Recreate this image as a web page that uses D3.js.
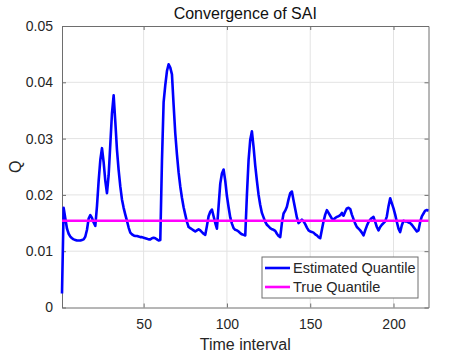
<!DOCTYPE html>
<html>
<head>
<meta charset="utf-8">
<script src="https://cdn.jsdelivr.net/npm/d3@7"></script>
<style>
  html, body { margin: 0; padding: 0; background: #fff; }
  svg { display: block; }
  text { font-family: "Liberation Sans", Arial, Helvetica, sans-serif; }
</style>
</head>
<body>
<svg id="chart" width="474" height="355"></svg>
<script>
// ---- data ----
const title = "Convergence of SAI";
const xLabel = "Time interval";
const yLabel = "Q";
const xTicks = [50, 100, 150, 200];
const yTicks = [0, 0.01, 0.02, 0.03, 0.04, 0.05];
const yTickLabels = ["0", "0.01", "0.02", "0.03", "0.04", "0.05"];
const seriesNames = ["Estimated Quantile", "True Quantile"];
const trueQuantile = 0.0154;
const estimated = [
  0.0025, 0.0177, 0.0158, 0.0140, 0.0131, 0.0126, 0.0123, 0.0121, 0.0120, 0.0119,
  0.0119, 0.0119, 0.0120, 0.0121, 0.0126, 0.0138, 0.0158, 0.0164, 0.0159, 0.0151,
  0.0145, 0.0180, 0.0225, 0.0262, 0.0283, 0.0258, 0.0225, 0.0203, 0.0235, 0.0290,
  0.0345, 0.0377, 0.0330, 0.0280, 0.0244, 0.0215, 0.0192, 0.0177, 0.0165, 0.0154,
  0.0142, 0.0133, 0.0130, 0.0128, 0.0127, 0.0127, 0.0126, 0.0125, 0.0125, 0.0124,
  0.0123, 0.0122, 0.0121, 0.0121, 0.0123, 0.0124, 0.0123, 0.0121, 0.0119, 0.0120,
  0.0260, 0.0365, 0.0395, 0.0420, 0.0432, 0.0426, 0.0414, 0.0360, 0.0309, 0.0272,
  0.0240, 0.0215, 0.0195, 0.0178, 0.0165, 0.0152, 0.0143, 0.0141, 0.0139, 0.0137,
  0.0135, 0.0137, 0.0139, 0.0137, 0.0134, 0.0131, 0.0129, 0.0145, 0.0162, 0.0170,
  0.0174, 0.0162, 0.0150, 0.0140, 0.0180, 0.0220, 0.0238, 0.0245, 0.0225, 0.0198,
  0.0178, 0.0160, 0.0149, 0.0141, 0.0138, 0.0137, 0.0135, 0.0132, 0.0130, 0.0129,
  0.0128, 0.0200, 0.0262, 0.0298, 0.0313, 0.0285, 0.0252, 0.0225, 0.0200, 0.0182,
  0.0168, 0.0160, 0.0152, 0.0147, 0.0144, 0.0141, 0.0139, 0.0138, 0.0136, 0.0131,
  0.0127, 0.0125, 0.0150, 0.0167, 0.0172, 0.0179, 0.0192, 0.0203, 0.0206, 0.0190,
  0.0175, 0.0160, 0.0150, 0.0153, 0.0156, 0.0153, 0.0148, 0.0142, 0.0137, 0.0135,
  0.0134, 0.0133, 0.0130, 0.0128, 0.0125, 0.0123, 0.0138, 0.0153, 0.0165, 0.0173,
  0.0168, 0.0163, 0.0158, 0.0156, 0.0159, 0.0161, 0.0162, 0.0164, 0.0168, 0.0163,
  0.0170, 0.0176, 0.0177, 0.0175, 0.0165, 0.0157, 0.0149, 0.0143, 0.0140, 0.0137,
  0.0133, 0.0128, 0.0137, 0.0145, 0.0152, 0.0156, 0.0159, 0.0161, 0.0152, 0.0143,
  0.0137, 0.0143, 0.0147, 0.0150, 0.0153, 0.0162, 0.0180, 0.0194, 0.0185, 0.0176,
  0.0165, 0.0152, 0.0140, 0.0134, 0.0146, 0.0154, 0.0153, 0.0153, 0.0151, 0.0150,
  0.0147, 0.0143, 0.0139, 0.0135, 0.0137, 0.0152, 0.0162, 0.0167, 0.0172, 0.0173,
  0.0172
];
const timeIdx = estimated.map((_, i) => i + 1);

// ---- layout ----
const svg = d3.select("#chart");
const L = 62, R = 428.5, T = 26, B = 307.5;
const axisColor = "#6e6e6e", textColor = "#262626", gridColor = "#e3e3e3";
const blue = "#0000ff", magenta = "#ff00ff";

const x = d3.scaleLinear().domain([1, estimated.length]).range([L, R]);
const y = d3.scaleLinear().domain([0, 0.05]).range([B, T]);

// grid
const g = svg.append("g");
g.selectAll(".gx").data(xTicks).enter().append("line")
  .attr("x1", d => x(d)).attr("x2", d => x(d)).attr("y1", T).attr("y2", B)
  .attr("stroke", gridColor).attr("stroke-width", 1);
g.selectAll(".gy").data(yTicks.filter(d => d > 0 && d < 0.05)).enter().append("line")
  .attr("x1", L).attr("x2", R).attr("y1", d => y(d)).attr("y2", d => y(d))
  .attr("stroke", gridColor).attr("stroke-width", 1);

// axes (MATLAB style: ticks inside, box on)
const xAxisB = d3.axisBottom(x).tickValues(xTicks).tickSizeInner(-4).tickSizeOuter(0).tickPadding(12);
const xAxisT = d3.axisTop(x).tickValues(xTicks).tickSizeInner(-4).tickSizeOuter(0).tickFormat("");
const yAxisL = d3.axisLeft(y).tickValues(yTicks).tickSizeInner(-4).tickSizeOuter(0).tickPadding(9)
  .tickFormat((d, i) => yTickLabels[i]);
const yAxisR = d3.axisRight(y).tickValues(yTicks).tickSizeInner(-4).tickSizeOuter(0).tickFormat("");

function style(sel) {
  sel.select(".domain").attr("stroke", axisColor);
  sel.selectAll(".tick line").attr("stroke", axisColor);
  sel.selectAll(".tick text").attr("fill", textColor)
    .style("font-family", '"Liberation Sans", Arial, sans-serif').style("font-size", "14px");
}
svg.append("g").attr("transform", `translate(0,${B})`).call(xAxisB).call(style);
svg.append("g").attr("transform", `translate(0,${T})`).call(xAxisT).call(style);
svg.append("g").attr("transform", `translate(${L},0)`).call(yAxisL).call(style);
svg.append("g").attr("transform", `translate(${R},0)`).call(yAxisR).call(style);

// data lines (drawn over the axes, like the reference)
const plot = svg.append("g");
const line = d3.line().x((d, i) => x(timeIdx[i])).y(d => y(d));
plot.append("path").datum(estimated).attr("d", line)
  .attr("fill", "none").attr("stroke", blue).attr("stroke-width", 2.6)
  .attr("stroke-linejoin", "round");
plot.append("line")
  .attr("x1", x(1)).attr("x2", x(estimated.length))
  .attr("y1", y(trueQuantile)).attr("y2", y(trueQuantile))
  .attr("stroke", magenta).attr("stroke-width", 2.6);

// title & labels
svg.append("text").attr("x", (L + R) / 2).attr("y", 18.5).attr("text-anchor", "middle")
  .attr("fill", "#111").style("font-size", "16px").text(title);
svg.append("text").attr("x", (L + R) / 2).attr("y", 349.5).attr("text-anchor", "middle")
  .attr("fill", textColor).style("font-size", "16px").text(xLabel);
svg.append("text").attr("transform", `translate(21,${(T + B) / 2}) rotate(-90)`)
  .attr("text-anchor", "middle").attr("fill", textColor).style("font-size", "16px").text(yLabel);

// legend
const lg = svg.append("g");
lg.append("rect").attr("x", 262).attr("y", 257).attr("width", 156).attr("height", 41)
  .attr("fill", "#fff").attr("stroke", axisColor).attr("stroke-width", 1);
const lgColors = [blue, magenta];
seriesNames.forEach((name, i) => {
  const yy = 268 + i * 19;
  lg.append("line").attr("x1", 265).attr("x2", 290).attr("y1", yy).attr("y2", yy)
    .attr("stroke", lgColors[i]).attr("stroke-width", 2.6);
  lg.append("text").attr("x", 293).attr("y", yy + 5).attr("fill", textColor)
    .style("font-size", "14.5px").text(name);
});
</script>
</body>
</html>
